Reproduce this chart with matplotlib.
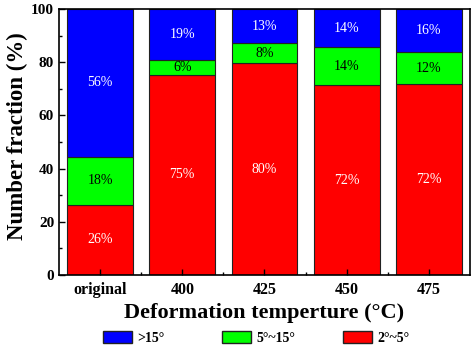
import matplotlib
matplotlib.use("Agg")
import matplotlib.pyplot as plt
import numpy as np
from matplotlib.patches import Patch
from matplotlib.ticker import MultipleLocator

categories = ["original", "400", "425", "450", "475"]
low = [26.4, 75.2, 79.6, 71.4, 71.7]      # 2°~5°
mid = [18.0, 5.6, 7.5, 14.2, 12.0]        # 5°~15°
high = [55.6, 19.2, 12.9, 14.4, 16.3]     # >15°
low_lbl = ["26%", "75%", "80%", "72%", "72%"]
mid_lbl = ["18%", "6%", "8%", "14%", "12%"]
high_lbl = ["56%", "19%", "13%", "14%", "16%"]
legend_labels = [">15°", "5°~15°", "2°~5°"]
colors = ['#0000ff', '#00ff00', '#ff0000']

plt.rcParams['font.family'] = ['Liberation Serif', 'DejaVu Serif']

fig = plt.figure(figsize=(4.74, 3.48), dpi=100)
ax = fig.add_axes([0.1245, 0.2098, 0.867, 0.7642])

x = np.arange(len(categories))
w = 0.8
low_a = np.array(low); mid_a = np.array(mid); high_a = np.array(high)
ax.bar(x, low_a, w, color=colors[2], edgecolor='#222222', linewidth=0.8)
ax.bar(x, mid_a, w, bottom=low_a, color=colors[1], edgecolor='#222222', linewidth=0.8)
ax.bar(x, high_a, w, bottom=low_a + mid_a, color=colors[0], edgecolor='#222222', linewidth=0.8)

for i in range(len(categories)):
    ax.text(x[i], low_a[i] / 2, low_lbl[i], ha='center', va='center', color='white', fontsize=10)
    ax.text(x[i], low_a[i] + mid_a[i] / 2, mid_lbl[i], ha='center', va='center', color='black', fontsize=10)
    ax.text(x[i], low_a[i] + mid_a[i] + high_a[i] / 2, high_lbl[i], ha='center', va='center', color='white', fontsize=10)

ax.set_xlim(-0.5, len(categories) - 0.5)
ax.set_ylim(0, 100)
ax.set_xticks(x)
ax.set_xticklabels(categories, fontweight='bold', fontsize=11.5)
ax.set_xticks(x[:-1] + 0.5, minor=True)
ax.yaxis.set_major_locator(MultipleLocator(20))
ax.yaxis.set_minor_locator(MultipleLocator(10))
for lbl in ax.get_yticklabels():
    lbl.set_fontweight('bold')
    lbl.set_fontsize(11)
ax.tick_params(axis='both', which='both', direction='in', top=False, right=False)
ax.tick_params(which='major', length=4, width=1)
ax.tick_params(axis='x', which='major', pad=5)
ax.tick_params(which='minor', length=2.5, width=1)
for s in ax.spines.values():
    s.set_linewidth(1.2)

ax.set_xlabel("Deformation temperture (°C)", fontweight='bold', fontsize=16, labelpad=4)
ax.set_ylabel("Number fraction (%)", fontweight='bold', fontsize=16.5)
ax.yaxis.set_label_coords(-0.075, 0.522)

legend_x = [103 / 474, 222 / 474, 343 / 474]
for lab, col, lx in zip(legend_labels, colors, legend_x):
    h = [Patch(facecolor=col, edgecolor='#222222', label=lab)]
    fig.legend(handles=h, loc='center left', bbox_to_anchor=(lx, 1 - 338 / 348), frameon=False,
               prop={'weight': 'bold', 'size': 10}, handlelength=2.1, handleheight=0.95,
               handletextpad=0.4, borderpad=0, borderaxespad=0)

fig.savefig("out.png", dpi=100)
